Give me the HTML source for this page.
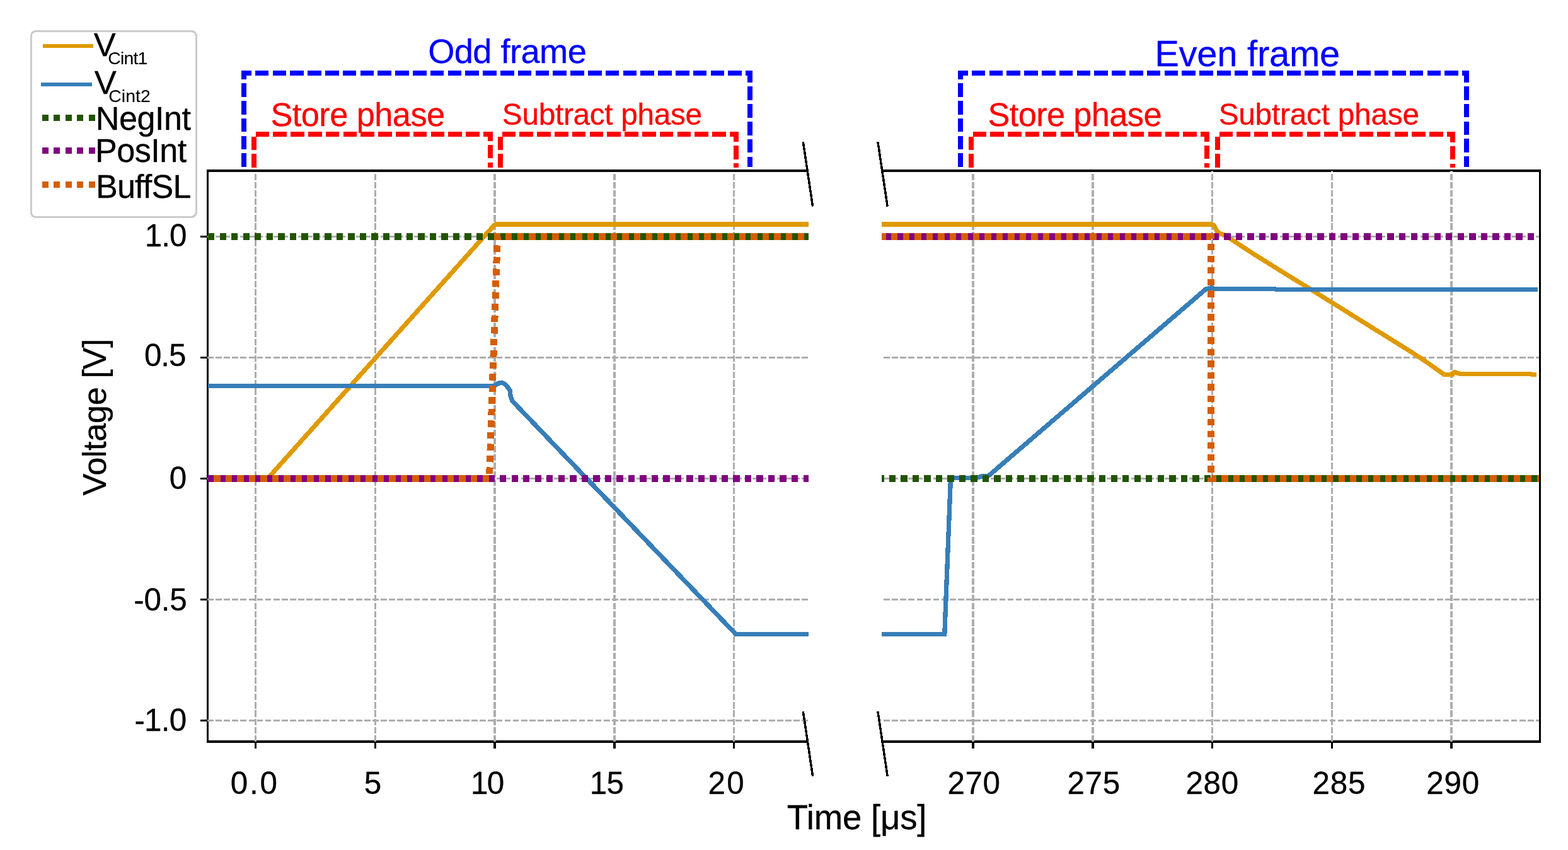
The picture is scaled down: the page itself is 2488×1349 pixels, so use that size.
<!DOCTYPE html>
<html lang="en"><head><meta charset="utf-8"><title>Voltage vs. time: odd and even frame</title>
<style>html,body{margin:0;padding:0;background:#fff}svg{display:block}</style></head>
<body>
<svg width="2488" height="1349" viewBox="0 0 2488 1349" shape-rendering="crispEdges" font-family='"Liberation Sans", sans-serif'>
<style>text{stroke-width:0.3px;stroke-linejoin:round} .k{stroke:#000} .b{stroke:#0000ff} .r{stroke:#ff0000}</style>
<rect width="2488" height="1349" fill="#fff"/>
<defs>
<clipPath id="cl"><rect x="330" y="273" width="953" height="902"/></clipPath>
<clipPath id="cr"><rect x="1399" y="273" width="1043" height="902"/></clipPath>
</defs>
<g fill="#000" stroke="none">
<rect x="328" y="269" width="955" height="4"/>
<rect x="328" y="1175" width="955" height="4"/>
<rect x="328" y="269" width="3" height="910"/>
<rect x="1399" y="269" width="1046" height="4"/>
<rect x="1399" y="1175" width="1046" height="4"/>
<rect x="2442" y="269" width="3" height="910"/>
<rect x="318" y="374" width="10" height="3"/>
<rect x="318" y="566" width="10" height="3"/>
<rect x="318" y="758" width="10" height="3"/>
<rect x="318" y="950" width="10" height="3"/>
<rect x="318" y="1142" width="10" height="3"/>
<rect x="404" y="1179" width="3" height="9"/>
<rect x="594" y="1179" width="3" height="9"/>
<rect x="783" y="1179" width="4" height="9"/>
<rect x="973" y="1179" width="4" height="9"/>
<rect x="1163" y="1179" width="3" height="9"/>
<rect x="1542" y="1179" width="4" height="9"/>
<rect x="1732" y="1179" width="4" height="9"/>
<rect x="1922" y="1179" width="3" height="9"/>
<rect x="2112" y="1179" width="3" height="9"/>
<rect x="2301" y="1179" width="4" height="9"/>
</g>
<g stroke="#adadad" fill="none">
<path d="M405.5 1177 V273" stroke-width="3" stroke-dasharray="10.2 2.903"/>
<path d="M595.5 1177 V273" stroke-width="3" stroke-dasharray="10.2 2.903"/>
<path d="M785.0 1177 V273" stroke-width="4" stroke-dasharray="10.2 2.903"/>
<path d="M975.0 1177 V273" stroke-width="4" stroke-dasharray="10.2 2.903"/>
<path d="M1164.5 1177 V273" stroke-width="3" stroke-dasharray="10.2 2.903"/>
<path d="M1544.0 1177 V273" stroke-width="4" stroke-dasharray="10.2 2.903"/>
<path d="M1734.0 1177 V273" stroke-width="4" stroke-dasharray="10.2 2.903"/>
<path d="M1923.5 1177 V270.5" stroke-width="3" stroke-dasharray="10.2 2.903"/>
<path d="M2113.5 1177 V270.5" stroke-width="3" stroke-dasharray="10.2 2.903"/>
<path d="M2303.0 1177 V270.5" stroke-width="4" stroke-dasharray="10.2 2.903"/>
<path d="M329 375.5 H1283" stroke-width="3" stroke-dasharray="9.7 3.4"/>
<path d="M1399 375.5 H2442" stroke-width="3" stroke-dasharray="9.7 3.4" stroke-dashoffset="10.0"/>
<path d="M329 567.5 H1283" stroke-width="3" stroke-dasharray="9.7 3.4"/>
<path d="M1399 567.5 H2442" stroke-width="3" stroke-dasharray="9.7 3.4" stroke-dashoffset="10.0"/>
<path d="M329 759.5 H1283" stroke-width="3" stroke-dasharray="9.7 3.4"/>
<path d="M1399 759.5 H2442" stroke-width="3" stroke-dasharray="9.7 3.4" stroke-dashoffset="10.0"/>
<path d="M329 951.5 H1283" stroke-width="3" stroke-dasharray="9.7 3.4"/>
<path d="M1399 951.5 H2442" stroke-width="3" stroke-dasharray="9.7 3.4" stroke-dashoffset="10.0"/>
<path d="M329 1143.5 H1283" stroke-width="3" stroke-dasharray="9.7 3.4"/>
<path d="M1399 1143.5 H2442" stroke-width="3" stroke-dasharray="9.7 3.4" stroke-dashoffset="10.0"/>
</g>
<path d="M329.0 759.5 L424.7 759.5 L783.6 358.0 L786.5 356.0 L1283.0 356.0" stroke="#df9a00" stroke-width="7.3" fill="none" stroke-linejoin="miter" clip-path="url(#cl)"/>
<path d="M1399.0 356.0 L1923.2 356.0 L1926.0 357.5 L1928.5 362.0 L1931.0 367.2 L1934.0 370.0 L1939.0 371.6 L1944.0 373.5 L1990.0 403.6 L2040.0 434.8 L2080.0 459.3 L2160.0 509.2 L2240.0 559.0 L2260.0 572.1 L2291.5 594.5 L2304.5 594.5 L2306.0 591.5 L2308.5 590.5 L2312.0 592.0 L2318.0 593.4 L2428.0 593.4 L2432.0 594.5 L2438.0 594.5" stroke="#df9a00" stroke-width="7.3" fill="none" stroke-linejoin="miter" clip-path="url(#cr)"/>
<path d="M329.0 612.5 L784.0 612.5 L790.0 608.6 L796.0 607.2 L801.0 609.5 L806.0 615.0 L809.5 620.0 L810.0 628.0 L813.0 636.5 L1167.6 1006.5 L1283.0 1006.5" stroke="#377eb8" stroke-width="7.3" fill="none" stroke-linejoin="miter" clip-path="url(#cl)"/>
<path d="M1399.0 1006.5 L1498.8 1006.5 L1508.5 758.5 L1550.0 758.5 L1556.0 756.3 L1561.0 755.3 L1568.4 755.3 L1913.4 458.8 L1923.0 456.5 L1928.0 458.8 L2023.5 458.8 L2026.0 459.5 L2440.0 459.5" stroke="#377eb8" stroke-width="7.3" fill="none" stroke-linejoin="miter" clip-path="url(#cr)"/>
<path d="M330.0 375.5 L1283.0 375.5" stroke="#225500" stroke-width="11" fill="none" stroke-dasharray="10.4 8.12" stroke-dashoffset="0" stroke-linejoin="miter" clip-path="url(#cl)"/>
<path d="M1399.3 759.5 L2443.0 759.5" stroke="#225500" stroke-width="11" fill="none" stroke-dasharray="10.4 8.12" stroke-dashoffset="7.2" stroke-linejoin="miter" clip-path="url(#cr)"/>
<path d="M330.0 759.5 L1283.0 759.5" stroke="#800080" stroke-width="11" fill="none" stroke-dasharray="10.4 8.12" stroke-dashoffset="0" stroke-linejoin="miter" clip-path="url(#cl)"/>
<path d="M1399.3 375.5 L2436.0 375.5" stroke="#800080" stroke-width="11" fill="none" stroke-dasharray="10.4 8.12" stroke-dashoffset="12.7" stroke-linejoin="miter" clip-path="url(#cr)"/>
<path d="M331.0 759.5 L776.5 759.5 L789.3 375.5 L1283.0 375.5" stroke="#d55e00" stroke-width="11" fill="none" stroke-dasharray="10.4 8.14" stroke-dashoffset="10.4" stroke-linejoin="miter" clip-path="url(#cl)"/>
<path d="M1399.3 375.5 L1921.5 375.5 L1921.5 759.5 L2443.0 759.5" stroke="#d55e00" stroke-width="11" fill="none" stroke-dasharray="10.4 8.134" stroke-dashoffset="3.8" stroke-linejoin="miter" clip-path="url(#cr)"/>
<g stroke="#000" stroke-width="3.5" fill="none">
<path d="M1274.3 225.0 L1289.6 327.6"/>
<path d="M1392.9 225.0 L1408.2 327.6"/>
<path d="M1274.3 1129.0 L1289.6 1231.8"/>
<path d="M1392.9 1129.0 L1408.2 1231.8"/>
</g>
<path d="M387 265 V116 H1189.5 V265" stroke="#0000ff" stroke-width="8" fill="none" stroke-dasharray="21.6 6.2" stroke-linejoin="miter"/>
<path d="M403 266 V213 H778 V266" stroke="#ff0000" stroke-width="8" fill="none" stroke-dasharray="21.6 6.2" stroke-linejoin="miter"/>
<path d="M794 266 V213 H1167.5 V266" stroke="#ff0000" stroke-width="8" fill="none" stroke-dasharray="21.6 6.2" stroke-linejoin="miter"/>
<path d="M1524 265 V116 H2327 V265" stroke="#0000ff" stroke-width="8" fill="none" stroke-dasharray="21.6 6.2" stroke-linejoin="miter"/>
<path d="M1541 266 V213 H1915 V266" stroke="#ff0000" stroke-width="8" fill="none" stroke-dasharray="21.6 6.2" stroke-linejoin="miter"/>
<path d="M1932 266 V213 H2305 V266" stroke="#ff0000" stroke-width="8" fill="none" stroke-dasharray="21.6 6.2" stroke-linejoin="miter"/>
<text class="b" x="679.13" y="100.40" font-size="54.30" fill="#0000ff" letter-spacing="-0.592" >Odd frame</text>
<text class="b" x="1832.14" y="105.00" font-size="58.00" fill="#0000ff" letter-spacing="-0.271" >Even frame</text>
<text class="r" x="429.42" y="200.00" font-size="52.40" fill="#ff0000" letter-spacing="-0.576" >Store phase</text>
<text class="r" x="796.83" y="198.00" font-size="47.80" fill="#ff0000" letter-spacing="-0.318" >Subtract phase</text>
<text class="r" x="1567.42" y="200.00" font-size="52.40" fill="#ff0000" letter-spacing="-0.636" >Store phase</text>
<text class="r" x="1933.63" y="198.00" font-size="47.80" fill="#ff0000" letter-spacing="-0.241" >Subtract phase</text>
<text class="k" x="365.87" y="1259.60" font-size="49.40" fill="#000" letter-spacing="2.693" >0.0</text>
<text class="k" x="577.72" y="1259.60" font-size="49.40" fill="#000" >5</text>
<text class="k" x="746.94" y="1259.60" font-size="49.40" fill="#000" letter-spacing="-1.555" >10</text>
<text class="k" x="935.74" y="1259.60" font-size="49.40" fill="#000" letter-spacing="-0.611" >15</text>
<text class="k" x="1123.62" y="1259.60" font-size="49.40" fill="#000" letter-spacing="2.166" >20</text>
<text class="k" x="1503.62" y="1259.60" font-size="49.40" fill="#000" letter-spacing="0.496" >270</text>
<text class="k" x="1693.42" y="1259.60" font-size="49.40" fill="#000" letter-spacing="0.669" >275</text>
<text class="k" x="1881.52" y="1259.60" font-size="49.40" fill="#000" letter-spacing="0.596" >280</text>
<text class="k" x="2082.52" y="1259.60" font-size="49.40" fill="#000" letter-spacing="0.819" >285</text>
<text class="k" x="2263.32" y="1259.60" font-size="49.40" fill="#000" letter-spacing="0.746" >290</text>
<text class="k" x="229.74" y="391.00" font-size="49.40" fill="#000" letter-spacing="-0.940" >1.0</text>
<text class="k" x="228.97" y="581.30" font-size="49.40" fill="#000" letter-spacing="-1.134" >0.5</text>
<text class="k" x="268.66" y="775.60" font-size="49.40" fill="#000" >0</text>
<text class="k" x="212.30" y="969.30" font-size="49.40" fill="#000" letter-spacing="-0.251" >-0.5</text>
<text class="k" x="213.40" y="1159.60" font-size="49.40" fill="#000" letter-spacing="-0.800" >-1.0</text>
<text class="k" x="1248.67" y="1315.80" font-size="54.60" fill="#000" letter-spacing="-0.210" >Time [μs]</text>
<text class="k" transform="translate(167.8 786.43) rotate(-90)" font-size="52.3" letter-spacing="-0.390" fill="#000">Voltage [V]</text>
<rect x="49.6" y="49.6" width="261.6" height="294.8" rx="7" ry="7" fill="#fff" stroke="#cccccc" stroke-width="3.3"/>
<path d="M67.8 73 H148.1" stroke="#df9a00" stroke-width="6"/>
<path d="M65 134 H146" stroke="#377eb8" stroke-width="6"/>
<path d="M66.9 187 H152" stroke="#225500" stroke-width="10" stroke-dasharray="10 8.5"/>
<path d="M66.9 239 H152" stroke="#800080" stroke-width="10" stroke-dasharray="10 8.5"/>
<path d="M66.9 293 H152" stroke="#d55e00" stroke-width="10" stroke-dasharray="10 8.5"/>
<text class="k" x="148.77" y="88.60" font-size="52.5" fill="#000">V<tspan x="171.36" y="102.00" font-size="28.3" letter-spacing="-0.787" stroke-width="0.1">Cint1</tspan></text>
<text class="k" x="149.77" y="148.50" font-size="52.5" fill="#000">V<tspan x="172.26" y="161.70" font-size="28.3" letter-spacing="0.099" stroke-width="0.1">Cint2</tspan></text>
<text class="k" x="151.72" y="205.90" font-size="52.20" fill="#000" letter-spacing="-0.506" >NegInt</text>
<text class="k" x="151.12" y="256.60" font-size="52.20" fill="#000" letter-spacing="-0.564" >PosInt</text>
<text class="k" x="151.92" y="313.80" font-size="52.20" fill="#000" letter-spacing="-0.817" >BuffSL</text>
</svg>
</body></html>
